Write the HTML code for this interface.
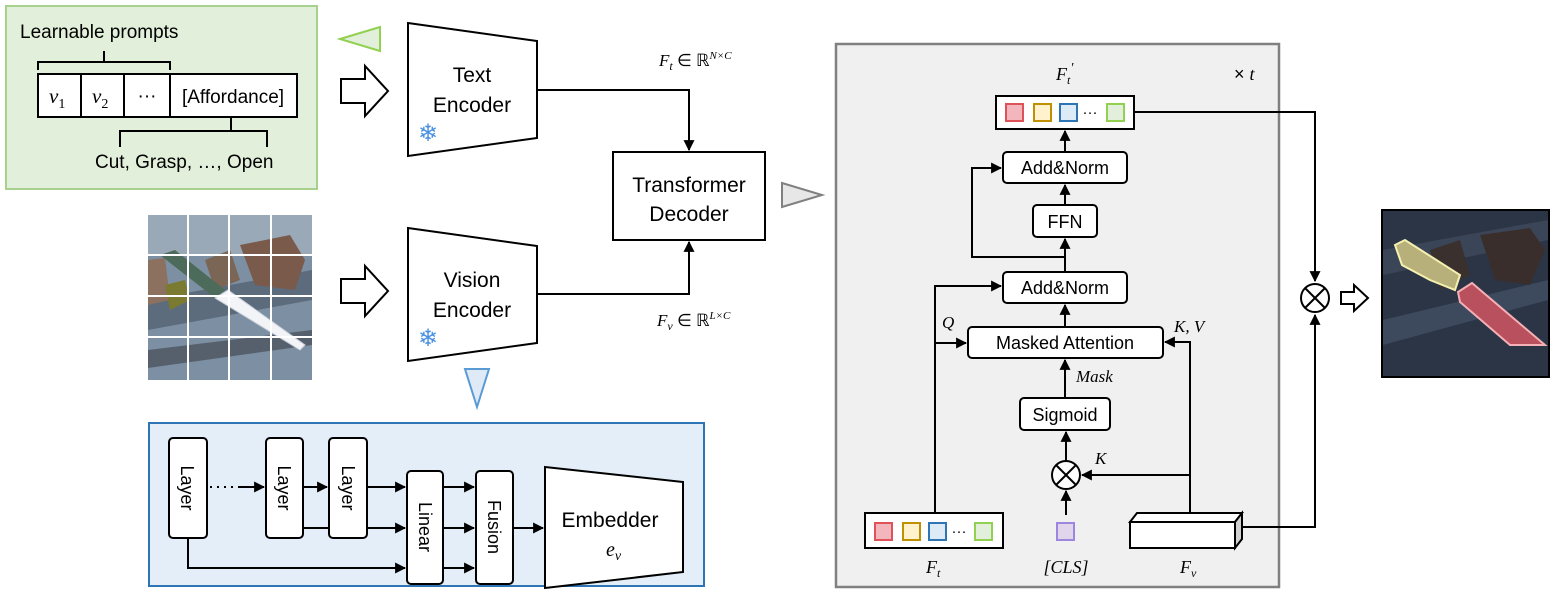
<!DOCTYPE html>
<html><head><meta charset="utf-8"><style>
html,body{margin:0;padding:0;background:#fff;}
svg{display:block;}
text{font-family:"Liberation Sans",sans-serif;fill:#000;}
.m{font-family:"Liberation Serif",serif;font-style:italic;}
</style></head><body>
<svg width="1555" height="592" viewBox="0 0 1555 592" xmlns="http://www.w3.org/2000/svg">
<defs>
<marker id="ah" viewBox="0 0 10 10" refX="9" refY="5" markerWidth="5.5" markerHeight="5.5" orient="auto-start-reverse"><path d="M0,0 L10,5 L0,10 z" fill="#000"/></marker>
</defs>

<rect x="6" y="6" width="311" height="183" fill="#e2efda" stroke="#a9d18e" stroke-width="2"/>
<text x="20" y="38" font-size="19">Learnable prompts</text>
<path d="M38,70 V62 H170 V70 M104,62 V51" fill="none" stroke="#000" stroke-width="2"/>
<rect x="38" y="74" width="259" height="43" fill="#fff" stroke="#000" stroke-width="2"/>
<path d="M81,74 V117 M124,74 V117 M170,74 V117" stroke="#000" stroke-width="2"/>
<text x="49" y="103" font-size="21" class="m">v<tspan font-size="14" dy="5" font-style="normal">1</tspan></text>
<text x="92" y="103" font-size="21" class="m">v<tspan font-size="14" dy="5" font-style="normal">2</tspan></text>
<text x="147" y="102" font-size="19" text-anchor="middle">···</text>
<text x="233" y="103" font-size="19" text-anchor="middle">[Affordance]</text>
<path d="M231,117 V131 M120,147 V131 H267 V147" fill="none" stroke="#000" stroke-width="2"/>
<text x="95" y="168" font-size="19">Cut, Grasp, …, Open</text>

<polygon points="340,39 380,27 380,51" fill="#e2efda" stroke="#92d050" stroke-width="2"/>
<polygon points="782,183 822,195 782,207" fill="#e7e7e7" stroke="#808080" stroke-width="2"/>
<polygon points="465,369 489,369 477,407" fill="#deebf7" stroke="#5b9bd5" stroke-width="2"/>

<polygon points="341,79 365,79 365,66 388,91 365,116 365,103 341,103" fill="#fff" stroke="#000" stroke-width="2"/>
<polygon points="341,279 365,279 365,266 388,291 365,316 365,303 341,303" fill="#fff" stroke="#000" stroke-width="2"/>

<polygon points="408,23 537,41 537,138 408,156" fill="#fff" stroke="#000" stroke-width="2"/>
<text x="472" y="82" font-size="21" text-anchor="middle">Text</text>
<text x="472" y="112" font-size="21" text-anchor="middle">Encoder</text>
<text x="428" y="141" font-size="24" text-anchor="middle" style="fill:#4a90e2">❄</text>
<polygon points="408,228 537,246 537,343 408,361" fill="#fff" stroke="#000" stroke-width="2"/>
<text x="472" y="287" font-size="21" text-anchor="middle">Vision</text>
<text x="472" y="317" font-size="21" text-anchor="middle">Encoder</text>
<text x="428" y="346" font-size="24" text-anchor="middle" style="fill:#4a90e2">❄</text>

<path d="M537,90 H689 V150" fill="none" stroke="#000" stroke-width="2" marker-end="url(#ah)"/>
<path d="M537,294 H689 V242" fill="none" stroke="#000" stroke-width="2" marker-end="url(#ah)"/>
<rect x="613" y="152" width="152" height="88" fill="#fff" stroke="#000" stroke-width="2"/>
<text x="689" y="192" font-size="21" text-anchor="middle">Transformer</text>
<text x="689" y="221" font-size="21" text-anchor="middle">Decoder</text>
<text x="659" y="66" font-size="17" class="m">F<tspan font-size="12" dy="4">t</tspan><tspan dy="-4" font-style="normal"> ∈ ℝ</tspan><tspan font-size="11" dy="-7">N×C</tspan></text>
<text x="657" y="326" font-size="17" class="m">F<tspan font-size="12" dy="4">v</tspan><tspan dy="-4" font-style="normal"> ∈ ℝ</tspan><tspan font-size="11" dy="-7">L×C</tspan></text>

<g>
<rect x="148" y="215" width="164" height="165" fill="#7d8fa3"/>
<rect x="148" y="215" width="164" height="40" fill="#9aa9b8"/>
<path d="M148,300 L312,270 L312,300 L148,330z" fill="#5d6c7c"/>
<path d="M148,350 L312,330 L312,345 L148,368z" fill="#56606c"/>
<path d="M240,245 L290,235 L305,260 L295,290 L255,285z" fill="#7a5a4a"/>
<path d="M205,260 L230,250 L240,280 L215,290z" fill="#7b6555"/>
<path d="M148,260 L165,258 L170,300 L148,305z" fill="#8c7060"/>
<path d="M165,285 L185,280 L190,300 L170,310z" fill="#7a7a30"/>
<path d="M160,255 L175,250 L225,290 L215,298z" fill="#4d6b5a"/>
<path d="M215,298 L228,290 L305,345 L300,350z" fill="#f2f4f8" stroke="#c8cfd8"/>
<path d="M188,215 V380 M229,215 V380 M271,215 V380 M148,255 H312 M148,296 H312 M148,337 H312" stroke="#fff" stroke-width="2"/>
</g>

<rect x="149" y="423" width="555" height="163" fill="#e3eef8" stroke="#2e75b6" stroke-width="2"/>
<g stroke="#000" stroke-width="2" fill="#fff">
<rect x="169" y="438" width="38" height="100" rx="4"/>
<rect x="266" y="438" width="37" height="100" rx="4"/>
<rect x="329" y="438" width="38" height="100" rx="4"/>
<rect x="407" y="471" width="36" height="113" rx="4"/>
<rect x="476" y="471" width="37" height="113" rx="4"/>
<polygon points="545,467 683,482 683,572 545,588"/>
</g>
<g font-size="18">
<text transform="translate(181,488) rotate(90)" text-anchor="middle">Layer</text>
<text transform="translate(278,488) rotate(90)" text-anchor="middle">Layer</text>
<text transform="translate(342,488) rotate(90)" text-anchor="middle">Layer</text>
<text transform="translate(419,527) rotate(90)" text-anchor="middle">Linear</text>
<text transform="translate(488,527) rotate(90)" text-anchor="middle">Fusion</text>
</g>
<text x="610" y="527" font-size="21" text-anchor="middle">Embedder</text>
<text x="606" y="556" font-size="20" class="m">e<tspan font-size="14" dy="4">v</tspan></text>
<g fill="none" stroke="#000" stroke-width="2">
<path d="M210,487 H236" stroke-dasharray="2,5"/>
<path d="M238,487 H264" marker-end="url(#ah)"/>
<path d="M303,487 H327" marker-end="url(#ah)"/>
<path d="M367,487 H405" marker-end="url(#ah)"/>
<path d="M303,528 H329"/>
<path d="M367,528 H405" marker-end="url(#ah)"/>
<path d="M188,538 V568 H405" marker-end="url(#ah)"/>
<path d="M443,487 H474" marker-end="url(#ah)"/>
<path d="M443,528 H474" marker-end="url(#ah)"/>
<path d="M443,568 H474" marker-end="url(#ah)"/>
<path d="M513,528 H543" marker-end="url(#ah)"/>
</g>

<rect x="836" y="44" width="443" height="543" fill="#f0f0f0" stroke="#808080" stroke-width="2.5"/>
<text x="1056" y="80" font-size="18" class="m">F<tspan font-size="12" dy="4">t</tspan><tspan font-size="14" dy="-12">′</tspan></text>
<text x="1234" y="80" font-size="18">× <tspan class="m">t</tspan></text>

<rect x="996" y="96" width="138" height="33" fill="#fff" stroke="#000" stroke-width="2"/>
<rect x="1006" y="104" width="17" height="17" fill="#f4b6bd" stroke="#e0525a" stroke-width="2"/>
<rect x="1034" y="104" width="17" height="17" fill="#fff2cc" stroke="#bf9000" stroke-width="2"/>
<rect x="1060" y="104" width="17" height="17" fill="#ddebf7" stroke="#2e75b6" stroke-width="2"/>
<text x="1090" y="117" font-size="15" text-anchor="middle">···</text>
<rect x="1107" y="104" width="17" height="17" fill="#e2efda" stroke="#92d050" stroke-width="2"/>

<g stroke="#000" stroke-width="2" fill="#fff">
<rect x="1003" y="152" width="124" height="31" rx="4"/>
<rect x="1033" y="205" width="64" height="32" rx="4"/>
<rect x="1003" y="272" width="124" height="31" rx="4"/>
<rect x="968" y="327" width="195" height="31" rx="4"/>
<rect x="1020" y="398" width="90" height="32" rx="4"/>
<circle cx="1066" cy="475" r="14"/>
<path d="M1056,465 L1076,485 M1076,465 L1056,485" fill="none"/>
</g>
<g font-size="18" text-anchor="middle">
<text x="1065" y="174">Add&amp;Norm</text>
<text x="1065" y="228">FFN</text>
<text x="1065" y="294">Add&amp;Norm</text>
<text x="1065" y="349">Masked Attention</text>
<text x="1065" y="421">Sigmoid</text>
</g>
<g fill="none" stroke="#000" stroke-width="2">
<path d="M1065,152 V131" marker-end="url(#ah)"/>
<path d="M1065,205 V185" marker-end="url(#ah)"/>
<path d="M1065,272 V239" marker-end="url(#ah)"/>
<path d="M1065,257 H972 V168 H1001" marker-end="url(#ah)"/>
<path d="M1065,327 V305" marker-end="url(#ah)"/>
<path d="M935,513 V286 H1001" marker-end="url(#ah)"/>
<path d="M935,343 H966" marker-end="url(#ah)"/>
<path d="M1190,513 V342 H1165" marker-end="url(#ah)"/>
<path d="M1190,475 H1082" marker-end="url(#ah)"/>
<path d="M1065,398 V360" marker-end="url(#ah)"/>
<path d="M1066,461 V432" marker-end="url(#ah)"/>
<path d="M1066,515 V491" marker-end="url(#ah)"/>
<path d="M1134,112 H1315 V281" marker-end="url(#ah)"/>
<path d="M1241,527 H1315 V315" marker-end="url(#ah)"/>
</g>
<text x="942" y="328" font-size="17" class="m">Q</text>
<text x="1174" y="332" font-size="17" class="m">K, V</text>
<text x="1076" y="382" font-size="17" class="m">Mask</text>
<text x="1095" y="464" font-size="17" class="m">K</text>

<rect x="865" y="513" width="138" height="35" fill="#fff" stroke="#000" stroke-width="2"/>
<rect x="875" y="523" width="17" height="17" fill="#f4b6bd" stroke="#e0525a" stroke-width="2"/>
<rect x="903" y="523" width="17" height="17" fill="#fff2cc" stroke="#bf9000" stroke-width="2"/>
<rect x="929" y="523" width="17" height="17" fill="#ddebf7" stroke="#2e75b6" stroke-width="2"/>
<text x="959" y="536" font-size="15" text-anchor="middle">···</text>
<rect x="975" y="523" width="17" height="17" fill="#e2efda" stroke="#92d050" stroke-width="2"/>
<rect x="1057" y="523" width="17" height="17" fill="#e0d5ea" stroke="#9c86e0" stroke-width="2"/>
<polygon points="1130,522 1137,513 1242,513 1235,522" fill="#fff" stroke="#000" stroke-width="2"/>
<polygon points="1235,522 1242,513 1242,539 1235,548" fill="#d0d0d0" stroke="#000" stroke-width="2"/>
<rect x="1130" y="522" width="105" height="26" fill="#fff" stroke="#000" stroke-width="2"/>
<text x="926" y="573" font-size="18" class="m">F<tspan font-size="12" dy="4">t</tspan></text>
<text x="1066" y="573" font-size="18" class="m" text-anchor="middle">[CLS]</text>
<text x="1180" y="573" font-size="18" class="m">F<tspan font-size="12" dy="4">v</tspan></text>

<circle cx="1315" cy="298" r="14" fill="#fff" stroke="#000" stroke-width="2"/>
<path d="M1305,288 L1325,308 M1325,288 L1305,308" stroke="#000" stroke-width="2"/>
<polygon points="1341,292 1354,292 1354,285 1368,298 1354,311 1354,304 1341,304" fill="#fff" stroke="#000" stroke-width="2"/>

<g>
<rect x="1382" y="210" width="167" height="167" fill="#2c3545" stroke="#000" stroke-width="2"/>
<path d="M1383,250 L1548,220 L1548,240 L1383,275z" fill="#3b4558"/>
<path d="M1383,320 L1548,280 L1548,300 L1383,345z" fill="#3d4a5e"/>
<path d="M1480,235 L1530,228 L1545,250 L1530,285 L1495,280z" fill="#3a2e2c"/>
<path d="M1430,250 L1460,240 L1470,275 L1440,290z" fill="#3a302e"/>
<path d="M1395,245 L1405,240 L1460,275 L1455,290 L1430,280 L1402,265z" fill="#b8b07a" stroke="#f5efb0" stroke-width="2"/>
<path d="M1458,292 L1472,283 L1545,345 L1510,345 L1460,302z" fill="#b8505e" stroke="#f5b0b5" stroke-width="2"/>
</g>
</svg>
</body></html>
